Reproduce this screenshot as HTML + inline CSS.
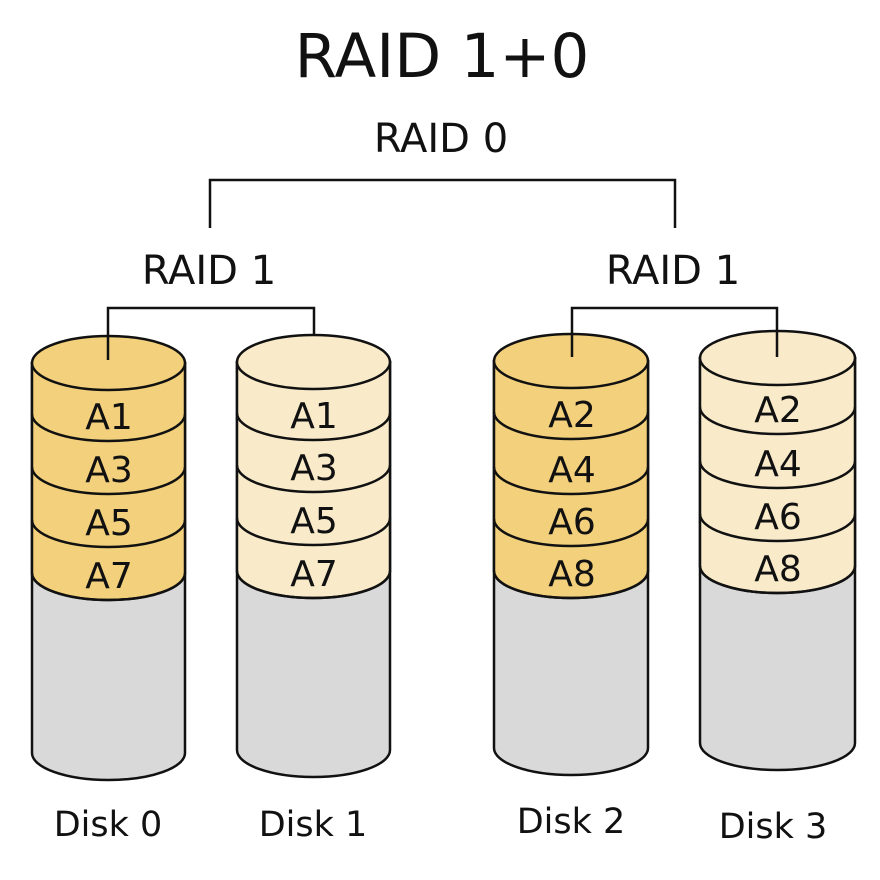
<!DOCTYPE html>
<html><head><meta charset="utf-8"><style>
html,body{margin:0;padding:0;background:#fff;width:880px;height:880px;overflow:hidden}
svg text{font-family:"DejaVu Sans","Liberation Sans",sans-serif;fill:#111;text-anchor:middle}
</style></head><body>
<svg width="880" height="880" viewBox="0 0 880 880" xmlns="http://www.w3.org/2000/svg">
<rect width="880" height="880" fill="#fff"/>
<text x="442" y="77" font-size="61">RAID 1+0</text>
<text x="441" y="152" font-size="40">RAID 0</text>
<text x="209" y="284" font-size="40">RAID 1</text>
<text x="673" y="284" font-size="40">RAID 1</text>
<g fill="none" stroke="#111" stroke-width="2.5">
<path d="M210 228 V180 H675 V228"/>
<path d="M108 360 V308 H314 V336"/>
<path d="M572 357 V308 H777 V357"/>
</g>
<g stroke="#111" stroke-width="2.5">
<path d="M32 363 V753 A76.5 27 0 0 0 185 753 V363 Z" fill="#d9d9d9"/>
<path d="M32 363 V573 A76.5 27 0 0 0 185 573 V363 Z" fill="#f2d07c"/>
<g fill="none"><path d="M32 414 A76.5 27 0 0 0 185 414"/><path d="M32 467 A76.5 27 0 0 0 185 467"/><path d="M32 520 A76.5 27 0 0 0 185 520"/><path d="M32 573 A76.5 27 0 0 0 185 573"/></g>
<ellipse cx="108.5" cy="363" rx="76.5" ry="27" fill="#f2d07c"/>
<path d="M237 362 V750 A76.5 27 0 0 0 390 750 V362 Z" fill="#d9d9d9"/>
<path d="M237 362 V571 A76.5 27 0 0 0 390 571 V362 Z" fill="#f9ebca"/>
<g fill="none"><path d="M237 413 A76.5 27 0 0 0 390 413"/><path d="M237 465 A76.5 27 0 0 0 390 465"/><path d="M237 518 A76.5 27 0 0 0 390 518"/><path d="M237 571 A76.5 27 0 0 0 390 571"/></g>
<ellipse cx="313.5" cy="362" rx="76.5" ry="27" fill="#f9ebca"/>
<path d="M494 361 V748 A77 27 0 0 0 648 748 V361 Z" fill="#d9d9d9"/>
<path d="M494 361 V571 A77 27 0 0 0 648 571 V361 Z" fill="#f2d07c"/>
<g fill="none"><path d="M494 412 A77 27 0 0 0 648 412"/><path d="M494 467 A77 27 0 0 0 648 467"/><path d="M494 519 A77 27 0 0 0 648 519"/><path d="M494 571 A77 27 0 0 0 648 571"/></g>
<ellipse cx="571" cy="361" rx="77" ry="27" fill="#f2d07c"/>
<path d="M700 358 V743 A77.5 27 0 0 0 855 743 V358 Z" fill="#d9d9d9"/>
<path d="M700 358 V566 A77.5 27 0 0 0 855 566 V358 Z" fill="#f9ebca"/>
<g fill="none"><path d="M700 407 A77.5 27 0 0 0 855 407"/><path d="M700 461 A77.5 27 0 0 0 855 461"/><path d="M700 514 A77.5 27 0 0 0 855 514"/><path d="M700 566 A77.5 27 0 0 0 855 566"/></g>
<ellipse cx="777.5" cy="358" rx="77.5" ry="27" fill="#f9ebca"/>
</g>
<g stroke="#111" stroke-width="2.5" fill="none">
<path d="M108 360 V335"/><path d="M572 357 V334"/><path d="M777 357 V331"/>
</g>
<g font-size="36">
<text x="109" y="429">A1</text><text x="109" y="482">A3</text><text x="109" y="535">A5</text><text x="109" y="588">A7</text>
<text x="314" y="428">A1</text><text x="314" y="480">A3</text><text x="314" y="533">A5</text><text x="314" y="586">A7</text>
<text x="572" y="427">A2</text><text x="572" y="482">A4</text><text x="572" y="534">A6</text><text x="572" y="586">A8</text>
<text x="778" y="422">A2</text><text x="778" y="476">A4</text><text x="778" y="529">A6</text><text x="778" y="581">A8</text>
</g>
<g font-size="35">
<text x="108" y="836">Disk 0</text>
<text x="313" y="836">Disk 1</text>
<text x="571" y="833">Disk 2</text>
<text x="773" y="838">Disk 3</text>
</g>
</svg>
</body></html>
